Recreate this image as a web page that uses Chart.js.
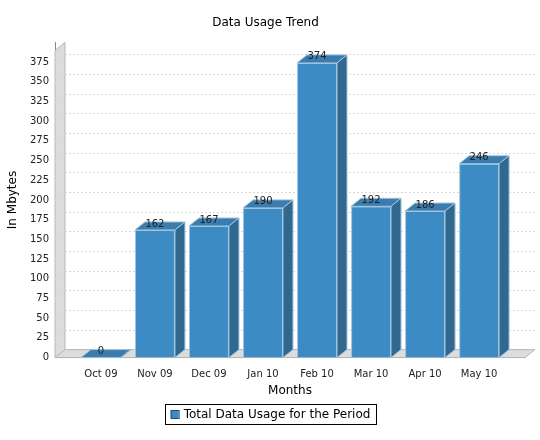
<!DOCTYPE html>
<html><head><meta charset="utf-8">
<script src="https://cdn.jsdelivr.net/npm/chart.js@4/dist/chart.umd.min.js"></script>
<style>html,body{margin:0;padding:0;background:#fff}#w{width:540px;height:440px}</style>
</head><body><div id="w"><canvas id="c"></canvas></div>
<script>
const categories=["Oct 09","Nov 09","Dec 09","Jan 10","Feb 10","Mar 10","Apr 10","May 10"];
const usage=[0,162,167,190,374,192,186,246];
const seriesName="Total Data Usage for the Period";
const DX=10,DY=-8;
const F="'DejaVu Sans', sans-serif";
const threeD={
 id:'threeD',
 beforeDatasetsDraw(ch){
  const c=ch.ctx,a=ch.chartArea,ys=ch.scales.y;
  c.save();
  c.fillStyle='#dcdcdc';c.strokeStyle='#b8b8b8';
  c.beginPath();c.moveTo(a.left,a.top-DY);c.lineTo(a.left+DX,a.top);c.lineTo(a.left+DX,a.bottom+DY);c.lineTo(a.left,a.bottom);c.closePath();c.fill();c.stroke();
  c.beginPath();c.moveTo(a.left,a.bottom);c.lineTo(a.left+DX,a.bottom+DY);c.lineTo(a.right+DX,a.bottom+DY);c.lineTo(a.right,a.bottom);c.closePath();c.fill();c.stroke();
  c.strokeStyle='#d8d8d8';c.setLineDash([2,2]);c.lineWidth=1;
  ys.ticks.forEach(t=>{if(t.value===0||t.value===400)return;const y=Math.round(ys.getPixelForValue(t.value)+DY)+0.5;
   c.beginPath();c.moveTo(a.left+DX,y);c.lineTo(a.right+DX,y);c.stroke();
   c.beginPath();c.moveTo(a.left,y-DY);c.lineTo(a.left+DX,y);c.stroke();});
  c.restore();
 },
 afterDatasetsDraw(ch){
  const c=ch.ctx,meta=ch.getDatasetMeta(0);
  c.save();
  meta.data.forEach((b,i)=>{
   const l=b.x-b.width/2,r=b.x+b.width/2,t=b.y,bt=b.base;
   c.strokeStyle='#9fc3dd';c.lineWidth=1;
   c.fillStyle='#3a7cad';
   c.beginPath();c.moveTo(l,t);c.lineTo(l+DX,t+DY);c.lineTo(r+DX,t+DY);c.lineTo(r,t);c.closePath();c.fill();c.stroke();
   c.fillStyle='#316890';
   c.beginPath();c.moveTo(r,t);c.lineTo(r+DX,t+DY);c.lineTo(r+DX,bt+DY);c.lineTo(r,bt);c.closePath();c.fill();c.stroke();
   c.fillStyle='#222';c.font='10px '+F;c.textAlign='center';c.textBaseline='bottom';
   c.fillText(String(usage[i]),b.x,t-1);
  });
  c.font='12px '+F;const tw=c.measureText(seriesName).width;
  const w=tw+24,h=20,x=270-w/2,y=404;
  c.strokeStyle='#000';c.lineWidth=1;c.strokeRect(Math.round(x)+0.5,y+0.5,Math.round(w),h);
  c.fillStyle='#3d8bc4';c.fillRect(x+6,y+6,8,8);c.strokeStyle='#1f4f75';c.strokeRect(x+6.5,y+6.5,8,8);
  c.fillStyle='#000';c.textAlign='left';c.textBaseline='middle';c.fillText(seriesName,x+19,y+h/2+1);
  c.restore();
 }
};
new Chart(document.getElementById('c'),{
 type:'bar',
 data:{datasets:[{label:seriesName,data:usage.map((v,i)=>({x:i,y:v})),backgroundColor:'#3d8bc4',borderColor:'#9fc3dd',borderWidth:1,barPercentage:0.74,categoryPercentage:1}]},
 options:{responsive:true,maintainAspectRatio:false,animation:false,
  layout:{padding:{left:6,right:15,top:12,bottom:38}},
  plugins:{legend:{display:false},tooltip:{enabled:false},
   title:{display:true,text:'Data Usage Trend',color:'#000',font:{family:F,size:12,weight:'normal'},padding:{top:4,bottom:12}}},
  scales:{
   x:{type:'linear',min:-0.85,max:7.85,offset:false,
    afterBuildTicks(s){s.ticks=categories.map((_,i)=>({value:i}));},
    ticks:{autoSkip:false,maxRotation:0,color:'#222',font:{family:F,size:10},callback:v=>categories[v]},
    grid:{display:false},border:{display:true,color:'#888'},
    title:{display:true,text:'Months',color:'#000',font:{family:F,size:12},padding:{top:0}}},
   y:{min:0,max:400,
    ticks:{stepSize:25,color:'#222',font:{family:F,size:10},padding:2,callback:v=>v===400?'':v},
    grid:{display:false,drawTicks:true,tickLength:4},border:{display:true,color:'#888'},
    title:{display:true,text:'In Mbytes',color:'#000',font:{family:F,size:12},padding:{top:0,bottom:4}},
    afterFit(s){s.width=49;}}
  }},
 plugins:[threeD]
});
</script></body></html>
